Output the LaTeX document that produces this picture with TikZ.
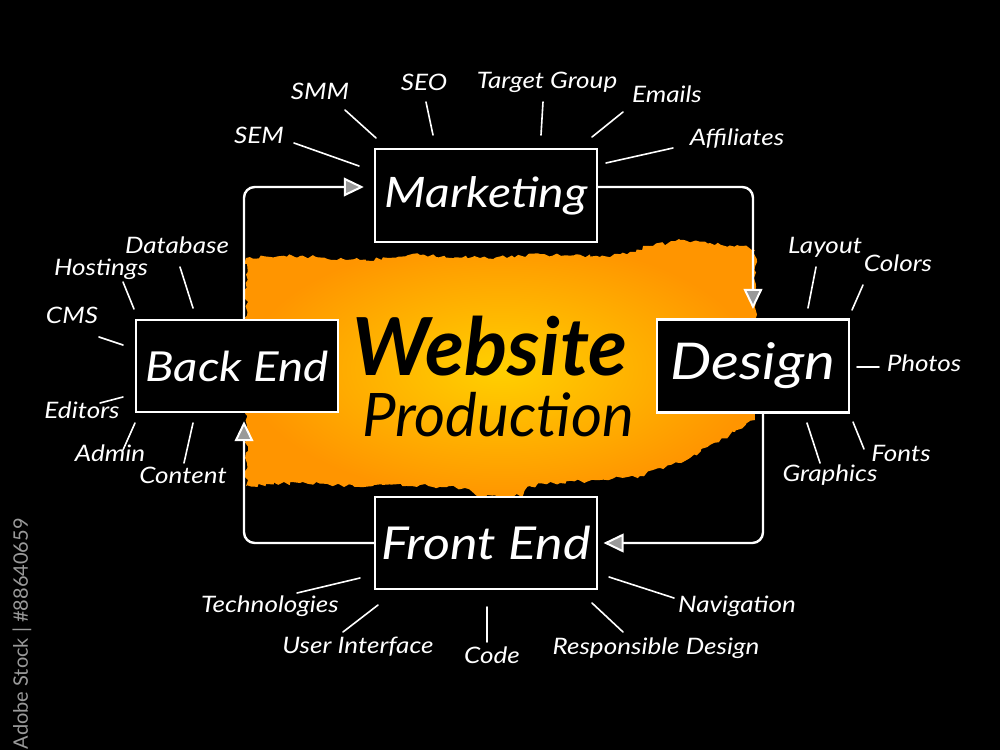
\documentclass[tikz,border=0pt]{standalone}
\usepackage{fontspec}
\setmainfont{Lato}[FakeStretch=1.15]
\newfontfamily\plainfont{Lato}
\usetikzlibrary{arrows.meta,decorations.pathmorphing,calc}
\definecolor{orout}{HTML}{FF9500}
\definecolor{orin}{HTML}{FFD000}
\definecolor{wm}{HTML}{9A9A9A}
\begin{document}
\begin{tikzpicture}[x=0.75pt,y=-0.75pt,
  box/.style={draw=white, fill=black, line width=1.8pt, text=white, inner sep=0pt,
    font=\itshape\fontsize{31.5}{34}\selectfont},
  lbl/.style={text=white, font=\itshape\fontsize{17}{19}\selectfont, inner sep=0pt, anchor=mid},
  spoke/.style={draw=white, line width=1.2pt, line cap=round},
  flow/.style={draw=white, line width=1.8pt, rounded corners=8pt,
    -{Triangle[length=15pt,width=14pt,fill=white!60!black,line width=1.5pt]}},
  bigtext/.style={text=black, inner sep=0pt, anchor=base}
]
\useasboundingbox (0,0) rectangle (1000,750);
\fill[black] (0,0) rectangle (1000,750);

% orange splash
\shade[inner color=orin, outer color=orout,
  decorate, decoration={random steps, segment length=3pt, amplitude=1.6pt}]
  (246,258) -- (300,256) -- (360,260) -- (420,255) -- (480,258) -- (540,254)
  -- (600,257) -- (630,252) -- (650,246) -- (680,240) -- (710,243) -- (740,246)
  -- (755,250) -- (755,420) -- (735,432) -- (710,445) -- (690,458) -- (660,468)
  -- (640,476) -- (600,480) -- (560,483) -- (530,486) -- (520,496) -- (480,497)
  -- (465,488) -- (420,485) -- (360,487) -- (300,483) -- (246,486) -- cycle;

\node[bigtext, font=\plainfont\bfseries\itshape\fontsize{60}{60}\selectfont] (t1) at (490,375) {Website};
\node[bigtext, font=\plainfont\itshape\fontsize{45}{45}\selectfont] (t2) at (498,436) {Production};

% boxes
\node[box, minimum width=166.5pt, minimum height=69.75pt] (mkt) at (486,195.5) {Marketing};
\node[box, font=\itshape\fontsize{31}{34}\selectfont, minimum width=151.5pt, minimum height=69pt] (be) at (237,366) {Back End};
\node[box, font=\itshape\fontsize{38}{40}\selectfont, minimum width=144pt, minimum height=69.75pt] (des) at (753,366) {Design};
\node[box, font=\itshape\fontsize{34}{36}\selectfont, minimum width=166.5pt, minimum height=69pt] (fe) at (486,543) {Front End};

% loop
\coordinate (L) at (244,187);
\coordinate (R2) at (763,543);
\draw[flow, shorten >=7.5pt] (be.north -| L) |- (mkt.west |- L);
\draw[flow, shorten >=7pt] (mkt.east |- L) -| (des.north);
\draw[flow, shorten >=4pt] (des.south -| R2) |- (fe.east |- R2);
\draw[flow, shorten >=6pt] (fe.west |- R2) -| (be.south -| L);

% labels
\node[lbl] (sem) at (259,140) {SEM};
\node[lbl] (smm) at (320,96) {SMM};
\node[lbl] (seo) at (424,87) {SEO};
\node[lbl] (tg) at (547,85) {Target Group};
\node[lbl] (eml) at (667,99) {Emails};
\node[lbl] (aff) at (737,142) {Affiliates};

\node[lbl] (db) at (177,250) {Database};
\node[lbl] (host) at (101,272) {Hostings};
\node[lbl] (cms) at (72,320) {CMS};
\node[lbl] (edit) at (82,415) {Editors};
\node[lbl] (adm) at (110,458) {Admin};
\node[lbl] (cont) at (183,480) {Content};

\node[lbl] (lay) at (825,250) {Layout};
\node[lbl] (col) at (898,268) {Colors};
\node[lbl] (pho) at (924,368) {Photos};
\node[lbl] (fnt) at (901,458) {Fonts};
\node[lbl] (gra) at (830,478) {Graphics};

\node[lbl] (tech) at (270,609) {Technologies};
\node[lbl] (ui) at (358,650) {User Interface};
\node[lbl] (code) at (492,660) {Code};
\node[lbl] (rd) at (656,651) {Responsible Design};
\node[lbl] (nav) at (737,609) {Navigation};

% spokes
\foreach \n/\a/\b in {
  sem/{294,143}/{359,166}, smm/{345,110}/{376,138}, seo/{426,102}/{433,135},
  tg/{543,102}/{541,135}, eml/{623,112}/{592,137}, aff/{673,148}/{606,163},
  db/{180,267}/{193,308}, host/{123,282}/{134,309}, cms/{99,337}/{123,345},
  edit/{100,403}/{123,397}, adm/{123,450}/{135,423}, cont/{193,423}/{184,463},
  lay/{816,267}/{808,308}, col/{863,285}/{852,310}, pho/{857,367}/{879,367},
  fnt/{853,422}/{864,449}, gra/{807,423}/{820,463},
  tech/{297,593}/{360,578}, ui/{343,632}/{378,605}, code/{487,607}/{487,642},
  rd/{592,603}/{623,632}, nav/{609,577}/{674,598}}{
  \coordinate (\n-s1) at (\a);
  \coordinate (\n-s2) at (\b);
  \draw[spoke] (\n-s1) -- (\n-s2);
}

% stock id
\node[rotate=90, anchor=east, text=wm, inner sep=0pt, font=\plainfont\fontsize{15}{15}\selectfont] (sid) at (22,518) {Adobe Stock | \#88640659};
\end{tikzpicture}
\end{document}
